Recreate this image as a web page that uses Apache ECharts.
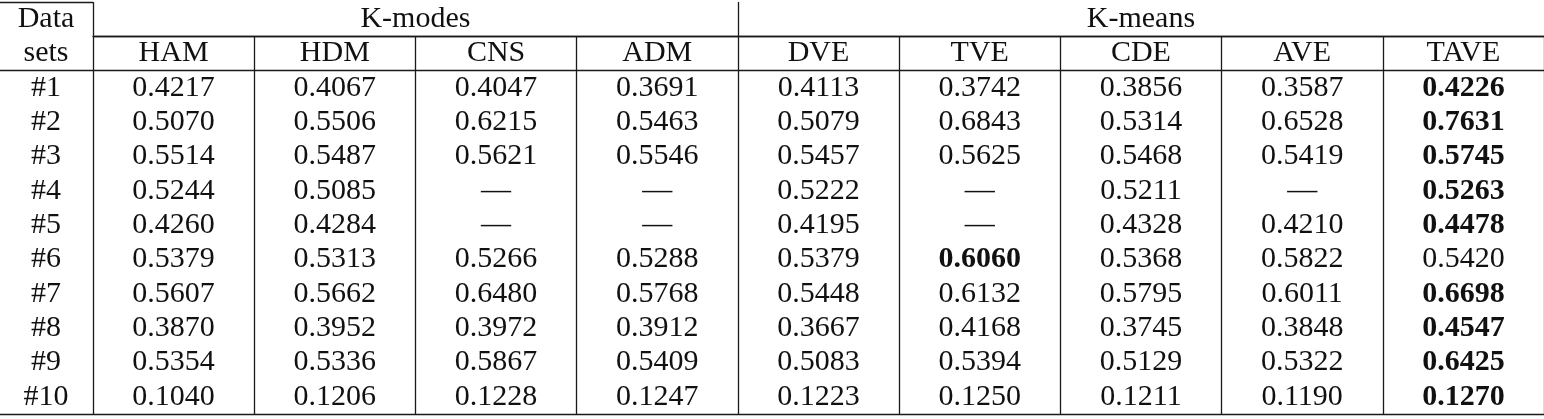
<!DOCTYPE html>
<html>
<head>
<meta charset="utf-8">
<script src="https://cdn.jsdelivr.net/npm/echarts@6/dist/echarts.min.js"></script>
<style>
  html, body { margin: 0; padding: 0; background: #fff; }
  #table-chart { width: 1544px; height: 419px; }
</style>
</head>
<body>
<div id="table-chart"></div>
<script>
// table content
const groupNames = ['K-modes', 'K-means'];
const groupSpans = [4, 5];
const methods = ['HAM', 'HDM', 'CNS', 'ADM', 'DVE', 'TVE', 'CDE', 'AVE', 'TAVE'];
const headLabels = ['Data', 'sets'];
const datasets = ['#1', '#2', '#3', '#4', '#5', '#6', '#7', '#8', '#9', '#10'];

// null = no result (dash)
const ham  = [0.4217, 0.5070, 0.5514, 0.5244, 0.4260, 0.5379, 0.5607, 0.3870, 0.5354, 0.1040];
const hdm  = [0.4067, 0.5506, 0.5487, 0.5085, 0.4284, 0.5313, 0.5662, 0.3952, 0.5336, 0.1206];
const cns  = [0.4047, 0.6215, 0.5621, null,   null,   0.5266, 0.6480, 0.3972, 0.5867, 0.1228];
const adm  = [0.3691, 0.5463, 0.5546, null,   null,   0.5288, 0.5768, 0.3912, 0.5409, 0.1247];
const dve  = [0.4113, 0.5079, 0.5457, 0.5222, 0.4195, 0.5379, 0.5448, 0.3667, 0.5083, 0.1223];
const tve  = [0.3742, 0.6843, 0.5625, null,   null,   0.6060, 0.6132, 0.4168, 0.5394, 0.1250];
const cde  = [0.3856, 0.5314, 0.5468, 0.5211, 0.4328, 0.5368, 0.5795, 0.3745, 0.5129, 0.1211];
const ave  = [0.3587, 0.6528, 0.5419, null,   0.4210, 0.5822, 0.6011, 0.3848, 0.5322, 0.1190];
const tave = [0.4226, 0.7631, 0.5745, 0.5263, 0.4478, 0.5420, 0.6698, 0.4547, 0.6425, 0.1270];

const columns = [ham, hdm, cns, adm, dve, tve, cde, ave, tave];

const lineColor = '#1a1a1a';
const lineWidth = 1.3;
const font = { color: '#111', fontFamily: 'Liberation Serif, Times New Roman, serif', fontSize: 30 };

// body cells, best value of each row in bold
const cells = [];
datasets.forEach((d, r) => {
    const best = Math.max(...columns.map(col => col[r]).filter(v => v !== null));
    columns.forEach((col, c) => {
        const v = col[r];
        cells.push({
            value: [c, r + 1, v === null ? '\u2014' : v.toFixed(4)],
            label: { fontWeight: v === best ? 'bold' : 'normal' }
        });
    });
});

// group header positions
const groupCells = [];
const groupStarts = [];
let start = 0;
groupNames.forEach((name, i) => {
    groupStarts.push(start);
    groupCells.push([start + groupSpans[i] / 2, 0.5, name]);
    start += groupSpans[i];
});
const totalCols = start;

const hidden = { show: false };
const split = (fn) => ({ show: true, interval: fn, lineStyle: { color: lineColor, width: lineWidth } });
const cellLabel = Object.assign({
    show: true, position: 'inside', opacity: 1, textBorderWidth: 0,
    formatter: (p) => p.value[2]
}, font);

const chart = echarts.init(document.getElementById('table-chart'));
chart.setOption({
    animation: false,
    grid: [
        { left: -2, width: 95, top: 2, bottom: 5 },             // Data column
        { left: 93, right: -2, top: 2, height: 34.33 },        // group row
        { left: 93, right: -2, top: 36.33, bottom: 5 }         // sub header + body
    ],
    xAxis: [
        { gridIndex: 0, type: 'value', show: false },
        {
            gridIndex: 1, type: 'value', min: 0, max: totalCols, position: 'top',
            axisLine: { show: true, lineStyle: { color: lineColor, width: lineWidth } },
            axisTick: hidden, axisLabel: hidden, splitLine: hidden
        },
        {
            gridIndex: 2, type: 'category', data: methods, position: 'top',
            axisLine: hidden, axisTick: hidden,
            axisLabel: Object.assign({ inside: true, margin: 17, interval: 0, verticalAlign: 'middle' }, font),
            splitLine: split(0)
        }
    ],
    yAxis: [
        {
            gridIndex: 0, type: 'category', inverse: true, data: headLabels.concat(datasets),
            axisLine: hidden, axisTick: hidden,
            axisLabel: Object.assign({ inside: true, margin: 46, interval: 0, align: 'center' }, font),
            splitLine: split((i) => i === 0 || i === 2)
        },
        { gridIndex: 1, type: 'value', min: 0, max: 1, show: false },
        {
            gridIndex: 2, type: 'category', inverse: true, data: [headLabels[1]].concat(datasets),
            axisLine: hidden, axisTick: hidden, axisLabel: hidden,
            splitLine: split((i) => i === 0 || i === 1)
        }
    ],
    series: [
        {
            type: 'scatter', xAxisIndex: 1, yAxisIndex: 1, silent: true,
            symbolSize: 0, itemStyle: { color: '#111', opacity: 1 },
            label: cellLabel,
            emphasis: { disabled: true },
            data: groupCells,
            markLine: {
                silent: true, symbol: ['none', 'none'], label: hidden,
                lineStyle: { color: lineColor, width: lineWidth, type: 'solid', opacity: 1 },
                data: groupStarts.map(s => ({ xAxis: s }))
            }
        },
        {
            type: 'scatter', xAxisIndex: 2, yAxisIndex: 2, silent: true,
            symbolSize: 0, itemStyle: { color: '#111', opacity: 1 },
            label: cellLabel,
            emphasis: { disabled: true },
            data: cells
        }
    ]
});
window.addEventListener('resize', chart.resize);
</script>
</body>
</html>
